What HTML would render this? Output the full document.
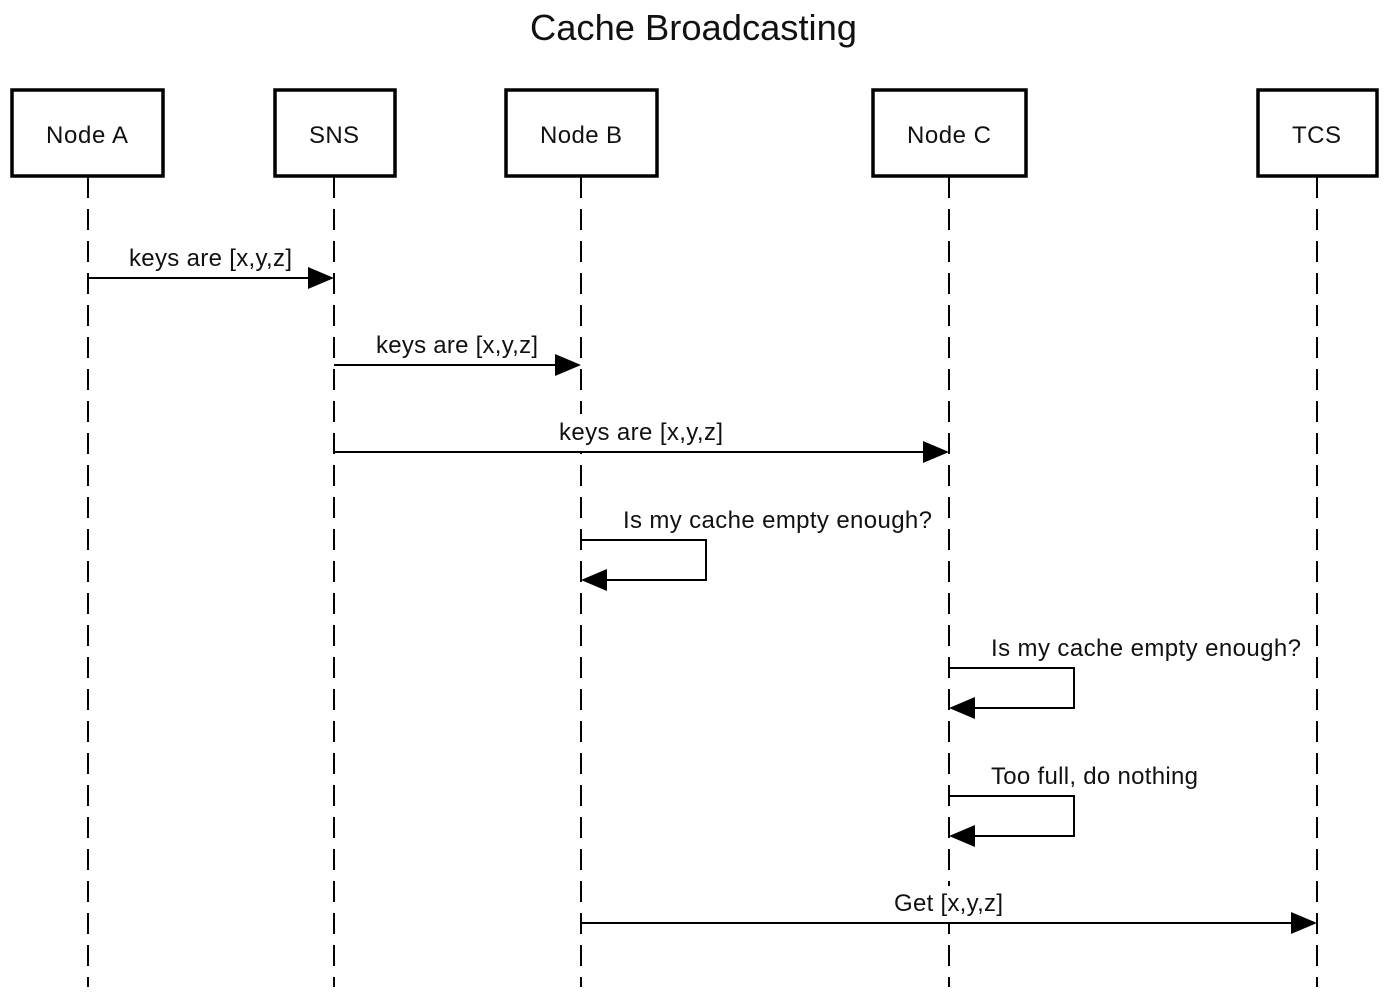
<!DOCTYPE html>
<html><head><style>
body{margin:0;background:#fff;}
svg text{font-family:"Liberation Sans",Arial,sans-serif;fill:#111;}
</style></head><body>
<svg width="1386" height="987" viewBox="0 0 1386 987" xmlns="http://www.w3.org/2000/svg">
<text x="530" y="40" font-size="36" textLength="327" lengthAdjust="spacingAndGlyphs">Cache Broadcasting</text>
<g fill="#fff" stroke="#000" stroke-width="3.5">
<rect x="12" y="90" width="151" height="86"/>
<rect x="275" y="90" width="120" height="86"/>
<rect x="506" y="90" width="151" height="86"/>
<rect x="873" y="90" width="153" height="86"/>
<rect x="1258" y="90" width="119" height="86"/>
</g>
<g font-size="24" lengthAdjust="spacingAndGlyphs">
<text x="46" y="143" textLength="82">Node A</text>
<text x="309" y="143" textLength="50">SNS</text>
<text x="540" y="143" textLength="82">Node B</text>
<text x="907" y="143" textLength="84">Node C</text>
<text x="1292" y="143" textLength="49">TCS</text>
</g>
<g stroke="#000" stroke-width="2" stroke-dasharray="21 11">
<line x1="88" y1="177" x2="88" y2="987"/>
<line x1="334" y1="177" x2="334" y2="987"/>
<line x1="581" y1="177" x2="581" y2="987"/>
<line x1="949" y1="177" x2="949" y2="987"/>
<line x1="1317" y1="177" x2="1317" y2="987"/>
</g>
<rect x="555" y="414" width="172" height="37" fill="#fff"/>
<rect x="890" y="886" width="117" height="36" fill="#fff"/>
<g stroke="#000" stroke-width="2" fill="none">
<line x1="88" y1="278" x2="312" y2="278"/>
<line x1="334" y1="365" x2="559" y2="365"/>
<line x1="334" y1="452" x2="927" y2="452"/>
<polyline points="581,540 706,540 706,580 603,580"/>
<polyline points="949,668 1074,668 1074,708 971,708"/>
<polyline points="949,796 1074,796 1074,836 971,836"/>
<line x1="581" y1="923" x2="1295" y2="923"/>
</g>
<g fill="#000">
<polygon points="334,278 308,267 308,289"/>
<polygon points="581,365 555,354 555,376"/>
<polygon points="949,452 923,441 923,463"/>
<polygon points="581,580 607,569 607,591"/>
<polygon points="949,708 975,697 975,719"/>
<polygon points="949,836 975,825 975,847"/>
<polygon points="1317,923 1291,912 1291,934"/>
</g>
<g font-size="24" lengthAdjust="spacingAndGlyphs">
<text x="129" y="266" textLength="163">keys are [x,y,z]</text>
<text x="376" y="353" textLength="162">keys are [x,y,z]</text>
<text x="559" y="440" textLength="164">keys are [x,y,z]</text>
<text x="623" y="528" textLength="309">Is my cache empty enough?</text>
<text x="991" y="656" textLength="310">Is my cache empty enough?</text>
<text x="991" y="784" textLength="207">Too full, do nothing</text>
<text x="894" y="911" textLength="109">Get [x,y,z]</text>
</g>
</svg>
</body></html>
